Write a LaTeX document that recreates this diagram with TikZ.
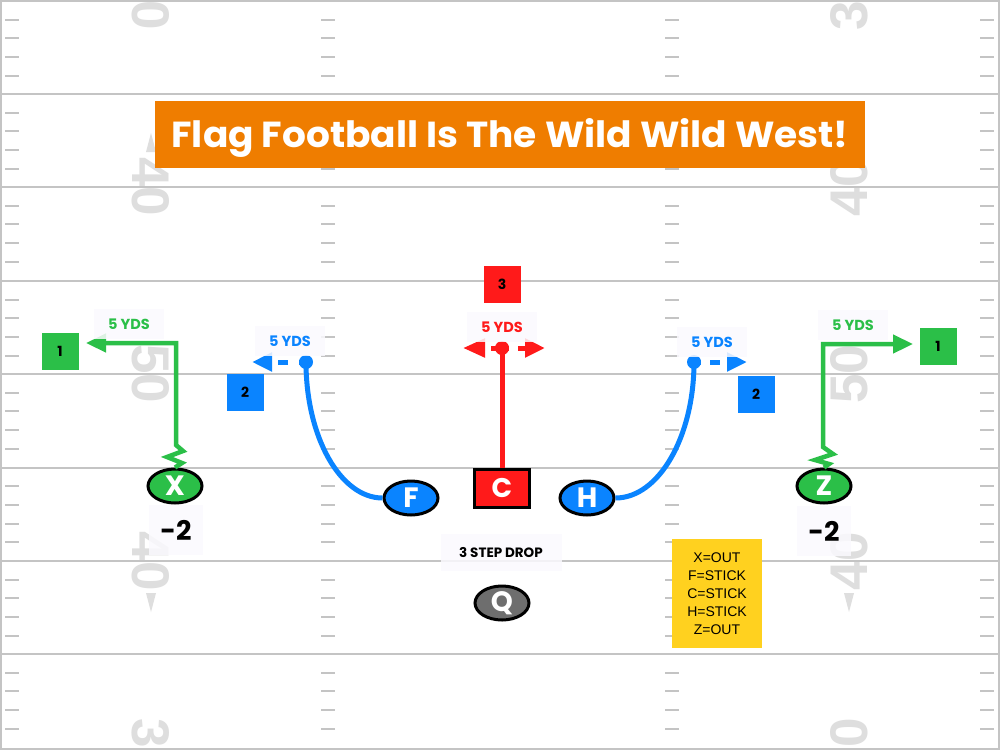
\documentclass[tikz,border=0pt]{standalone}
\usepackage{fontspec}
\setmainfont{Liberation Sans}
\newfontfamily\pop{Poppins}
\usetikzlibrary{arrows.meta,shapes.geometric}
\definecolor{fieldline}{HTML}{C4C4C4}
\definecolor{numgray}{HTML}{DEDEDE}
\definecolor{pgreen}{HTML}{2BBF48}
\definecolor{pblue}{HTML}{0A84FF}
\definecolor{pred}{HTML}{FF1A1A}
\definecolor{porange}{HTML}{EF7D00}
\definecolor{pyellow}{HTML}{FFD11F}
\definecolor{pgray}{HTML}{6E6E6E}
\definecolor{labbg}{HTML}{FBFAFE}
\tikzset{
  yardline/.style={draw=fieldline, line width=2pt},
  hashmark/.style={draw=fieldline, line width=2pt},
  fieldnum/.style={text=numgray, font=\fontsize{53}{53}\selectfont\bfseries, inner sep=0pt},
  numtri/.style={fill=numgray},
  player/.style={ellipse, draw=black, line width=3pt, minimum width=54pt, minimum height=34pt, inner sep=0pt, text=white, font=\pop\bfseries\fontsize{28}{28}\selectfont},
  centerbox/.style={rectangle, draw=black, line width=3pt, minimum width=55pt, minimum height=38pt, inner sep=0pt, text=white, font=\pop\bfseries\fontsize{27}{27}\selectfont},
  tagbox/.style={rectangle, minimum width=37pt, minimum height=37pt, inner sep=0pt, text=black, font=\pop\bfseries\fontsize{14}{14}\selectfont},
  ydslabel/.style={fill=labbg, fill opacity=0.85, text opacity=1, minimum width=70pt, minimum height=30pt, inner sep=0pt, font=\pop\bfseries\fontsize{14.5}{14.5}\selectfont},
  minuslabel/.style={fill=labbg, fill opacity=0.85, text opacity=1, minimum width=54pt, minimum height=50pt, inner sep=0pt, text=black, font=\pop\bfseries\fontsize{27}{27}\selectfont},
  routeline/.style={line width=5pt},
  greenline/.style={draw=pgreen, line width=4.5pt, line join=miter},
  tipA/.style={-{Triangle[length=20pt,width=18pt]}},
  routedot/.style={circle, inner sep=0pt, minimum size=14pt},
}
\begin{document}
\begin{tikzpicture}[x=1pt,y=-1pt]
\useasboundingbox (0,0) rectangle (1000,750);
\begin{scope}
\clip (0,0) rectangle (1000,750);
\fill[white] (0,0) rectangle (1000,750);
% field numbers
\foreach \yy/\txt in {187/40,374/50,561/40} {
  \node[fieldnum, rotate=-90] (ln\yy) at (151,\yy) {\txt};
  \node[fieldnum, rotate=90] (rn\yy) at (849,\yy) {\txt};
}
\node[fieldnum, rotate=-90] (lntop) at (151,15.5) {0};
\node[fieldnum, rotate=90] (rntop) at (849,15.5) {3};
\node[fieldnum, rotate=-90] (lnbot) at (151,733) {3};
\node[fieldnum, rotate=90] (rnbot) at (849,733) {0};
\fill[numtri] (146,152) -- (156,152) -- (151,133) -- cycle;
\fill[numtri] (844,152) -- (854,152) -- (849,133) -- cycle;
\fill[numtri] (146,593) -- (156,593) -- (151,612) -- cycle;
\fill[numtri] (844,593) -- (854,593) -- (849,612) -- cycle;
% hash marks
\foreach \s in {1,94,187,281,374,467.5,561,654} {
  \foreach \k in {1,2,3,4} {
    \draw[hashmark] (5,\s+18.7*\k) -- (19,\s+18.7*\k);
    \draw[hashmark] (321,\s+18.7*\k) -- (335,\s+18.7*\k);
    \draw[hashmark] (665,\s+18.7*\k) -- (679,\s+18.7*\k);
    \draw[hashmark] (980,\s+18.7*\k) -- (994,\s+18.7*\k);
  }
}
% yard lines
\foreach \yy in {94,187,281,374,467.5,561,654} {
  \draw[yardline] (1,\yy) -- (999,\yy);
}
\draw[yardline] (1,1) rectangle (999,749);
\end{scope}

% title
\node[fill=porange, minimum width=710pt, minimum height=67pt, inner sep=0pt] (titlebox) at (510,134.5) {};
\node[anchor=base, inner sep=0pt, text=white] (titletext) at (510,147) {\resizebox{677pt}{29pt}{\pop\bfseries Flag Football Is The Wild Wild West!}};

% players
\node[player, fill=pgreen] (X) at (175,486) {X};
\node[player, fill=pblue] (F) at (411,498) {F};
\node[centerbox, fill=pred] (C) at (502,488) {C};
\node[player, fill=pblue] (H) at (587,498) {H};
\node[player, fill=pgreen] (Z) at (824,486) {Z};
\node[player, fill=pgray] (Q) at (502,603) {Q};

% route points
\coordinate (xtip) at (86,343);
\coordinate (ztip) at (913,344);
\coordinate (fd) at (306,362);
\coordinate (ftip) at (252,362);
\coordinate (cd) at (502,348);
\coordinate (cltip) at (463,348);
\coordinate (crtip) at (545,348);
\coordinate (hd) at (694,362);
\coordinate (htip) at (747,362);

% X route
\draw[greenline, tipA] (X.north) -- (182,463) -- (167,457) -- (183,451) -- (176,445) -- (176,343) -- (xtip);
% Z route
\draw[greenline, tipA] (Z.north) -- (829,464) -- (815,460) -- (833,454) -- (823,447) -- (823,344) -- (ztip);
% F route
\draw[draw=pblue, routeline] (F.west) .. controls (340.5,498) and (306,437) .. (fd);
\draw[draw=pblue, routeline, tipA, dash pattern=on 7pt off 11pt on 10pt off 11pt] (fd) -- (ftip);
% C route
\draw[draw=pred, routeline] (C.north) -- (cd);
\draw[draw=pred, routeline, -{Triangle[length=22pt,width=18pt]}, dash pattern=on 11pt off 6pt] (cd) -- (cltip);
\draw[draw=pred, routeline, -{Triangle[length=20pt,width=18pt]}, dash pattern=on 7pt off 9pt on 30pt] (cd) -- (crtip);
% H route
\draw[draw=pblue, routeline] (H.east) .. controls (658.6,498) and (694,437) .. (hd);
\draw[draw=pblue, routeline, tipA, dash pattern=on 7pt off 9pt on 10pt off 11pt] (hd) -- (htip);
% dots
\node[routedot, fill=pblue] (fdot) at (fd) {};
\node[routedot, fill=pred] (cdot) at (cd) {};
\node[routedot, fill=pblue] (hdot) at (hd) {};

% yard labels
\node[ydslabel, text=pgreen] (xyds) at (129,324) {5 YDS};
\node[ydslabel, text=pblue] (fyds) at (290,341) {5 YDS};
\node[ydslabel, text=pred] (cyds) at (502,327) {5 YDS};
\node[ydslabel, text=pblue] (hyds) at (712,342) {5 YDS};
\node[ydslabel, text=pgreen] (zyds) at (853,325) {5 YDS};

% read order tags
\node[tagbox, fill=pgreen] (t1l) at (60,351) {1};
\node[tagbox, fill=pgreen] (t1r) at (938,346) {1};
\node[tagbox, fill=pblue] (t2l) at (245,392) {2};
\node[tagbox, fill=pblue] (t2r) at (756,394) {2};
\node[tagbox, fill=pred] (t3) at (502,284) {3};

% -2 labels
\node[minuslabel] (xm) at (176,530) {-2};
\node[minuslabel] (zm) at (824,531) {-2};

% QB drop
\node[fill=labbg, fill opacity=0.85, text opacity=1, minimum width=121pt, minimum height=37pt, inner sep=0pt, font=\pop\bfseries\fontsize{13.5}{13.5}\selectfont] (drop) at (501,552) {3 STEP DROP};

% legend
\node[fill=pyellow, minimum width=90pt, minimum height=109pt, inner sep=0pt, align=center, font=\fontsize{14}{18}\selectfont] (legend) at (717,593.5) {X=OUT\\F=STICK\\C=STICK\\H=STICK\\Z=OUT};
\end{tikzpicture}
\end{document}
